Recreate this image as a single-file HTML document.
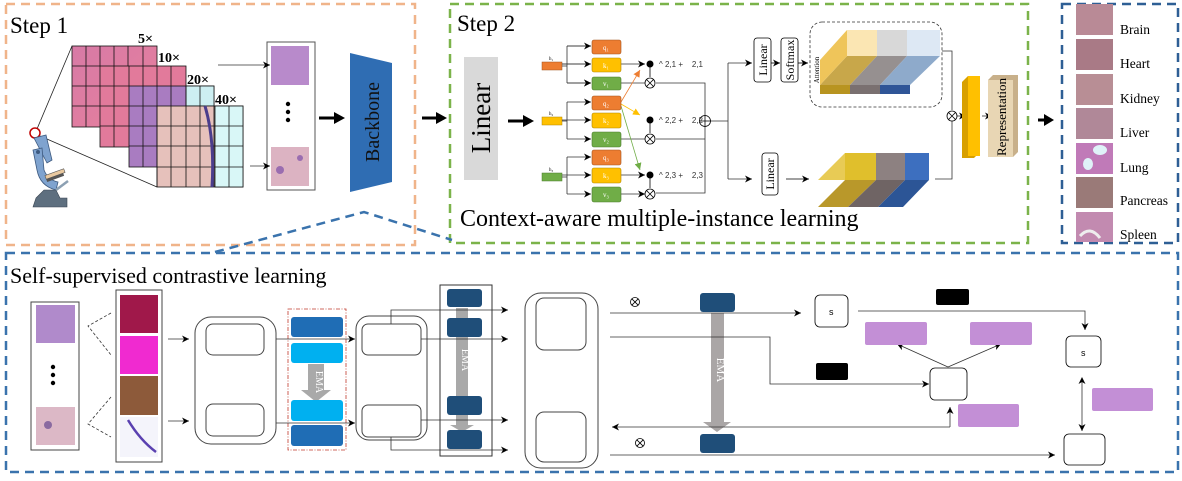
<!DOCTYPE html>
<html><head><meta charset="utf-8"><style>
html,body{margin:0;padding:0;background:#fff;}
svg{display:block;font-family:"Liberation Serif",serif;}
</style></head><body>
<svg width="1182" height="481" viewBox="0 0 1182 481" xmlns="http://www.w3.org/2000/svg">
<defs>
<marker id="a" markerWidth="8" markerHeight="8" refX="7" refY="4" orient="auto" markerUnits="userSpaceOnUse"><path d="M0,0.5 L7,4 L0,7.5 L2,4 Z" fill="#000"/></marker>
<marker id="as" markerWidth="8" markerHeight="8" refX="1" refY="4" orient="auto" markerUnits="userSpaceOnUse"><path d="M7,0.5 L0,4 L7,7.5 L5,4 Z" fill="#000"/></marker>
<marker id="ao" markerWidth="8" markerHeight="8" refX="7" refY="4" orient="auto" markerUnits="userSpaceOnUse"><path d="M0,0.5 L7,4 L0,7.5 Z" fill="#ed7d31"/></marker>
<marker id="ay" markerWidth="8" markerHeight="8" refX="7" refY="4" orient="auto" markerUnits="userSpaceOnUse"><path d="M0,0.5 L7,4 L0,7.5 Z" fill="#ffc000"/></marker>
<marker id="ag" markerWidth="8" markerHeight="8" refX="7" refY="4" orient="auto" markerUnits="userSpaceOnUse"><path d="M0,0.5 L7,4 L0,7.5 Z" fill="#70ad47"/></marker>
<linearGradient id="pk" x1="0" y1="0" x2="1" y2="1"><stop offset="0" stop-color="#d77aa6"/><stop offset="1" stop-color="#e8809c"/></linearGradient>
</defs>

<!-- Frames -->
<rect x="6" y="4" width="409" height="241" fill="none" stroke="#f0b48a" stroke-width="2.5" stroke-dasharray="9,6"/>
<rect x="450" y="4" width="578" height="239" fill="none" stroke="#7bb34a" stroke-width="2.5" stroke-dasharray="9,6"/>
<rect x="1062" y="4" width="116" height="239" fill="none" stroke="#2e5f95" stroke-width="2.5" stroke-dasharray="9,6"/>
<rect x="6" y="253" width="1172" height="219" fill="none" stroke="#3a73ad" stroke-width="2.5" stroke-dasharray="9,6"/>
<polyline points="215,252 364,212 452,240" fill="none" stroke="#3a73ad" stroke-width="2.5" stroke-dasharray="9,6"/>

<!-- Step 1 -->
<text x="10" y="33" font-size="23">Step 1</text>
<line x1="37" y1="129" x2="72" y2="46" stroke="#222" stroke-width="0.8"/>
<line x1="40" y1="136" x2="157" y2="187" stroke="#222" stroke-width="0.8"/>
<!-- layers -->
<g stroke="#111" stroke-width="0.8">
<rect x="72" y="46" width="85" height="81" fill="url(#pk)"/>
<rect x="100" y="66" width="86" height="81" fill="#e27a9b"/>
<rect x="129" y="86" width="85" height="81" fill="#a97cc1"/>
<rect x="186" y="86" width="28" height="20" fill="#cdeff2"/>
<rect x="157" y="106" width="86" height="81" fill="#e6c1bb"/>
<rect x="215" y="106" width="28" height="81" fill="#d9f7f7"/>
<path d="M157,106 L157,187 M171,106V187 M186,106V187 M200,106V187 M214,106V187 M229,106V187 M157,126H243 M157,146H243 M157,167H243"/>
<path d="M129,106H157 M129,126H157 M129,146H157 M143,86V167 M157,86V106 M171,86V106 M186,86V106 M200,86V106"/>
<path d="M100,86H129 M100,106H129 M100,126H129 M114,66V147 M129,66V86 M143,66V86 M157,66V86 M171,66V86"/>
<path d="M72,66H100 M72,86H100 M72,106H100 M86,46V127 M100,46V66 M114,46V66 M128,46V66 M143,46V66"/>
</g>
<path d="M205,106 Q215,140 212,187" stroke="#4b3d8c" stroke-width="3" fill="none"/>
<g font-weight="bold" font-size="14">
<text x="138" y="43">5×</text><text x="158" y="62">10×</text><text x="187" y="84">20×</text><text x="215" y="104">40×</text>
</g>
<!-- microscope -->
<g>
<circle cx="35" cy="133" r="5" fill="none" stroke="#c00000" stroke-width="1.5"/>
<path d="M34,138 L46,135 L52,160 L47,163 Z" fill="#7fa3cf" stroke="#3d5a80" stroke-width="0.8"/>
<path d="M33,150 L42,148 L44,170 Q48,180 58,182 L56,190 Q40,186 37,170 Z" fill="#7fa3cf" stroke="#3d5a80" stroke-width="0.8"/>
<rect x="45" y="172" width="20" height="4" fill="#e9c9a0" stroke="#555" stroke-width="0.6" transform="rotate(-20 55 174)"/>
<rect x="46" y="176" width="18" height="3" fill="#555" transform="rotate(-20 55 177)"/>
<circle cx="38" cy="152" r="2" fill="#3d5a80"/>
<path d="M36,198 L44,190 L56,190 L60,198 L67,198 L67,207 L33,207 Z" fill="#5e6f7f" stroke="#3a4652" stroke-width="0.6"/>
<line x1="56" y1="190" x2="68" y2="181" stroke="#8ca0b3" stroke-width="2.5"/>
</g>
<!-- patch column -->
<rect x="267" y="42" width="48" height="148" fill="#fff" stroke="#555" stroke-width="1"/>
<rect x="271" y="46" width="38" height="39" fill="#b88acb"/>
<rect x="271" y="147" width="38" height="39" fill="#dcb3c2"/>
<circle cx="280" cy="170" r="4" fill="#9a6db0"/><circle cx="300" cy="158" r="3" fill="#9a6db0"/>
<circle cx="288" cy="104" r="2.2"/><circle cx="288" cy="112" r="2.2"/><circle cx="288" cy="120" r="2.2"/>
<line x1="218" y1="65" x2="270" y2="65" stroke="#333" stroke-width="0.8" marker-end="url(#a)"/>
<line x1="250" y1="166" x2="270" y2="166" stroke="#333" stroke-width="0.8" marker-end="url(#a)"/>
<line x1="319" y1="118" x2="336" y2="118" stroke="#000" stroke-width="3"/><path d="M334,112 L345,118 L334,124 Z"/>
<polygon points="350,53 392,63 392,182 350,192" fill="#2f6db3"/>
<text transform="translate(379,122) rotate(-90)" text-anchor="middle" font-size="20" fill="#111">Backbone</text>
<line x1="422" y1="118" x2="437" y2="118" stroke="#000" stroke-width="3"/><path d="M436,112 L447,118 L436,124 Z"/>

<!-- Step 2 -->
<text x="457" y="31" font-size="23">Step 2</text>
<rect x="464" y="57" width="34" height="123" fill="#d9d9d9"/>
<text transform="translate(490,118) rotate(-90)" text-anchor="middle" font-size="27">Linear</text>
<line x1="508" y1="121" x2="524" y2="121" stroke="#000" stroke-width="3"/><path d="M523,115 L534,121 L523,127 Z"/>
<rect x="542" y="62" width="20" height="8" fill="#ed7d31" stroke="#a0521d" stroke-width="0.5"/>
<rect x="542" y="117" width="20" height="8" fill="#ffc000" stroke="#b08500" stroke-width="0.5"/>
<rect x="542" y="173" width="20" height="8" fill="#70ad47" stroke="#4a7a2c" stroke-width="0.5"/>
<g font-size="5"><text x="549" y="60">h₁</text><text x="549" y="115">h₂</text><text x="549" y="171">h₃</text></g>
<g stroke="#333" stroke-width="0.8" fill="none">
<path d="M562,66 H567 M567,46 V83 M567,46 H591 M562,64 H591 M567,83 H591" marker-end="url(#a)"/>
<line x1="567" y1="46" x2="591" y2="46" marker-end="url(#a)"/><line x1="562" y1="64" x2="591" y2="64" marker-end="url(#a)"/><line x1="567" y1="83" x2="591" y2="83" marker-end="url(#a)"/>
<path d="M562,121 H567 M567,102 V139"/>
<line x1="567" y1="102" x2="591" y2="102" marker-end="url(#a)"/><line x1="562" y1="120" x2="591" y2="120" marker-end="url(#a)"/><line x1="567" y1="139" x2="591" y2="139" marker-end="url(#a)"/>
<path d="M562,177 H567 M567,157 V194"/>
<line x1="567" y1="157" x2="591" y2="157" marker-end="url(#a)"/><line x1="562" y1="175" x2="591" y2="175" marker-end="url(#a)"/><line x1="567" y1="194" x2="591" y2="194" marker-end="url(#a)"/>
<line x1="621" y1="64" x2="645" y2="64" marker-end="url(#a)"/>
<line x1="621" y1="175" x2="645" y2="175" marker-end="url(#a)"/>
<line x1="621" y1="194" x2="645" y2="194" marker-end="url(#a)"/>
<line x1="621" y1="83" x2="645" y2="83"/>
<line x1="621" y1="139" x2="645" y2="139"/>
<path d="M656,83 H705 V193 H656 M656,139 H705 M710,121 H728 M728,63 V179"/>
<line x1="728" y1="63" x2="752" y2="63" marker-end="url(#a)"/>
<line x1="728" y1="179" x2="752" y2="179" marker-end="url(#a)"/>
</g>
<line x1="621" y1="102" x2="640" y2="70" stroke="#ed7d31" stroke-width="0.8" marker-end="url(#ao)"/>
<line x1="621" y1="104" x2="640" y2="115" stroke="#ffc000" stroke-width="0.8" marker-end="url(#ay)"/>
<line x1="621" y1="106" x2="640" y2="170" stroke="#70ad47" stroke-width="0.8" marker-end="url(#ag)"/>
<g stroke-width="0.6">
<rect x="592" y="40" width="29" height="14" rx="2" fill="#ed7d31" stroke="#a0521d"/>
<rect x="592" y="58" width="29" height="14" rx="2" fill="#ffc000" stroke="#b08500"/>
<rect x="592" y="77" width="29" height="13" rx="2" fill="#70ad47" stroke="#4a7a2c"/>
<rect x="592" y="96" width="29" height="14" rx="2" fill="#ed7d31" stroke="#a0521d"/>
<rect x="592" y="113" width="29" height="15" rx="2" fill="#ffc000" stroke="#b08500"/>
<rect x="592" y="132" width="29" height="15" rx="2" fill="#70ad47" stroke="#4a7a2c"/>
<rect x="592" y="150" width="29" height="15" rx="2" fill="#ed7d31" stroke="#a0521d"/>
<rect x="592" y="168" width="29" height="15" rx="2" fill="#ffc000" stroke="#b08500"/>
<rect x="592" y="187" width="29" height="15" rx="2" fill="#70ad47" stroke="#4a7a2c"/>
</g>
<g font-size="7" fill="#fff" text-anchor="middle">
<text x="606" y="50">q₁</text><text x="606" y="68">k₁</text><text x="606" y="86">v₁</text>
<text x="606" y="106">q₂</text><text x="606" y="123">k₂</text><text x="606" y="142">v₂</text>
<text x="606" y="160">q₃</text><text x="606" y="178">k₃</text><text x="606" y="197">v₃</text>
</g>
<g>
<circle cx="650" cy="64" r="3.5"/><circle cx="650" cy="120" r="3.5"/><circle cx="650" cy="175" r="3.5"/>
<line x1="650" y1="67" x2="650" y2="77" stroke="#000" stroke-width="0.8"/><line x1="650" y1="123" x2="650" y2="133" stroke="#000" stroke-width="0.8"/><line x1="650" y1="178" x2="650" y2="188" stroke="#000" stroke-width="0.8"/>
</g>
<g fill="#fff" stroke="#000" stroke-width="0.8">
<circle cx="650" cy="83" r="5"/><circle cx="650" cy="139" r="5"/><circle cx="650" cy="194" r="5"/><circle cx="705" cy="121" r="5.5"/>
</g>
<path d="M646.5,79.5 l7,7 m0,-7 l-7,7 M646.5,135.5 l7,7 m0,-7 l-7,7 M646.5,190.5 l7,7 m0,-7 l-7,7 M699.5,121 h11 M705,115.5 v11" stroke="#000" stroke-width="0.8"/>
<g font-size="8" font-family="Liberation Sans,sans-serif" fill="#333">
<text x="659" y="67">^ 2,1 +&#160;&#160;&#160; 2,1</text>
<text x="659" y="123">^ 2,2 +&#160;&#160;&#160; 2,2</text>
<text x="659" y="178">^ 2,3 +&#160;&#160;&#160; 2,3</text>
</g>
<!-- Linear/Softmax -->
<rect x="754" y="38" width="17" height="44" rx="3" fill="#fff" stroke="#000" stroke-width="0.8"/>
<rect x="781" y="38" width="17" height="44" rx="3" fill="#fff" stroke="#000" stroke-width="0.8"/>
<line x1="771" y1="63" x2="780" y2="63" stroke="#000" stroke-width="0.8" marker-end="url(#a)"/>
<line x1="798" y1="63" x2="808" y2="63" stroke="#000" stroke-width="0.8" marker-end="url(#a)"/>
<text transform="translate(767,60) rotate(-90)" text-anchor="middle" font-size="12">Linear</text>
<text transform="translate(794,60) rotate(-90)" text-anchor="middle" font-size="12">Softmax</text>
<rect x="762" y="153" width="16" height="42" rx="3" fill="#fff" stroke="#000" stroke-width="0.8"/>
<text transform="translate(774,174) rotate(-90)" text-anchor="middle" font-size="12">Linear</text>
<line x1="786" y1="179" x2="809" y2="179" stroke="#000" stroke-width="0.8" marker-end="url(#a)"/>
<!-- attention -->
<rect x="810" y="22" width="132" height="85" rx="12" fill="none" stroke="#333" stroke-width="0.8" stroke-dasharray="3,2"/>
<text transform="translate(819,70) rotate(-90)" text-anchor="middle" font-size="7">Attention</text>
<g>
<rect x="847" y="30" width="30" height="26" fill="#fbe6b3"/><rect x="877" y="30" width="30" height="26" fill="#d8d8d8"/><rect x="907" y="30" width="33" height="26" fill="#dde8f4"/>
<polygon points="820,85 847,56 877,56 850,85" fill="#c8a74a"/>
<polygon points="850,85 877,56 907,56 880,85" fill="#969090"/>
<polygon points="880,85 907,56 940,56 910,85" fill="#8eaacb"/>
<polygon points="820,85 847,56 847,30 820,60" fill="#efc55a"/>
<rect x="820" y="85" width="30" height="9" fill="#b89420"/><rect x="850" y="85" width="30" height="9" fill="#7a7070"/><rect x="880" y="85" width="30" height="9" fill="#2f5597"/>
</g>
<!-- bottom cubes -->
<g>
<rect x="845" y="153" width="31" height="27" fill="#e0bf2c"/>
<polygon points="818,180 845,153 845,180" fill="#e8cb55"/>
<polygon points="818,207 848,207 876,180 845,180" fill="#b9982a"/>
<rect x="818" y="180" width="0" height="0"/>
<rect x="876" y="153" width="29" height="27" fill="#8d8181"/>
<polygon points="848,207 878,207 905,180 876,180" fill="#6f6464"/>
<rect x="905" y="153" width="24" height="27" fill="#3d6fbf"/>
<polygon points="878,207 903,207 929,180 905,180" fill="#2c5596"/>
</g>
<g stroke="#333" stroke-width="0.8" fill="none">
<path d="M942,51 H952 V110 M935,179 H952 V121"/>
<line x1="957" y1="116" x2="966" y2="116" marker-end="url(#a)"/>
<line x1="982" y1="116" x2="992" y2="116" marker-end="url(#a)"/>
</g>
<circle cx="952" cy="116" r="5" fill="#fff" stroke="#000" stroke-width="0.8"/>
<path d="M948.5,112.5 l7,7 m0,-7 l-7,7" stroke="#000" stroke-width="0.8"/>
<polygon points="962,82 968,76 980,76 980,152 974,158 962,158" fill="#d8a000"/>
<rect x="968" y="76" width="12" height="80" fill="#ffc000"/>
<polygon points="988,80 993,75 1018,75 1018,152 1013,157 988,157" fill="#c8b08a"/>
<rect x="988" y="80" width="25" height="77" fill="#e8d6b4"/>
<text transform="translate(1006,117) rotate(-90)" text-anchor="middle" font-size="13">Representation</text>
<text x="460" y="226" font-size="24">Context-aware multiple-instance learning</text>
<line x1="1038" y1="120" x2="1045" y2="120" stroke="#000" stroke-width="3"/><path d="M1044,114 L1054,120 L1044,126 Z"/>

<!-- organs -->
<g>
<rect x="1076" y="4" width="37" height="31" fill="#b98a96"/>
<rect x="1076" y="39" width="37" height="31" fill="#a97a86"/>
<rect x="1076" y="74" width="37" height="31" fill="#b88e95"/>
<rect x="1076" y="108" width="37" height="31" fill="#b08898"/>
<rect x="1076" y="143" width="37" height="31" fill="#c07ab8"/>
<ellipse cx="1100" cy="150" rx="7" ry="5" fill="#dff2f8"/><ellipse cx="1088" cy="164" rx="5" ry="6" fill="#dff2f8"/>
<rect x="1076" y="177" width="37" height="31" fill="#9a7a78"/>
<rect x="1076" y="212" width="37" height="30" fill="#c28ab0"/>
<path d="M1080,236 Q1090,225 1100,238" stroke="#eee" stroke-width="3" fill="none"/>
</g>
<g font-size="13.5">
<text x="1120" y="34">Brain</text><text x="1120" y="68">Heart</text><text x="1120" y="103">Kidney</text><text x="1120" y="137">Liver</text><text x="1120" y="172">Lung</text><text x="1120" y="205">Pancreas</text><text x="1120" y="239">Spleen</text>
</g>

<!-- Bottom -->
<text x="10" y="283" font-size="22">Self-supervised contrastive learning</text>
<rect x="31" y="302" width="48" height="148" fill="#fff" stroke="#444" stroke-width="1"/>
<rect x="36" y="305" width="39" height="38" fill="#b08acb"/>
<rect x="36" y="407" width="39" height="38" fill="#dcb8c6"/>
<circle cx="48" cy="425" r="4" fill="#8a6aa0"/>
<circle cx="53" cy="367" r="2.2"/><circle cx="53" cy="375" r="2.2"/><circle cx="53" cy="383" r="2.2"/>
<g stroke="#333" stroke-width="0.8" stroke-dasharray="3,2" fill="none">
<path d="M111,313 L88,326 L111,355 M111,397 L88,424 L111,437"/>
</g>
<rect x="116" y="290" width="46" height="172" fill="#fff" stroke="#444" stroke-width="1"/>
<rect x="120" y="295" width="38" height="38" fill="#a0184a"/>
<rect x="120" y="336" width="38" height="38" fill="#f02ad0"/>
<rect x="120" y="376" width="38" height="39" fill="#8d5a3a"/>
<rect x="120" y="417" width="38" height="40" fill="#f4f4fb"/>
<path d="M128,420 Q140,440 156,452" stroke="#5a40b0" stroke-width="2.5" fill="none"/>
<g stroke="#333" stroke-width="0.8" fill="none">
<line x1="168" y1="339" x2="189" y2="339" marker-end="url(#a)"/>
<line x1="168" y1="421" x2="189" y2="421" marker-end="url(#a)"/>
</g>
<g fill="#fff" stroke="#444" stroke-width="1">
<rect x="195" y="317" width="81" height="127" rx="16"/>
<rect x="206" y="324" width="58" height="31" rx="7"/>
<rect x="206" y="404" width="58" height="32" rx="7"/>
</g>
<rect x="288" y="309" width="58" height="141" fill="none" stroke="#c0392b" stroke-width="0.8" stroke-dasharray="4,1.5,1,1.5"/>
<polygon points="308,364 324,364 324,390 331,390 316,402 301,390 308,390" fill="#a9a9a9"/>
<text transform="translate(316,382) rotate(90)" text-anchor="middle" font-size="10" fill="#fff">EMA</text>
<rect x="291" y="317" width="52" height="20" rx="3" fill="#1f6db5"/>
<rect x="291" y="343" width="52" height="20" rx="3" fill="#00b0f0"/>
<rect x="291" y="400" width="52" height="21" rx="3" fill="#00b0f0"/>
<rect x="291" y="425" width="52" height="21" rx="3" fill="#1f6db5"/>
<g stroke="#333" stroke-width="0.8" fill="none">
<line x1="276" y1="339" x2="355" y2="339" marker-end="url(#a)"/>
<line x1="276" y1="423" x2="355" y2="423" marker-end="url(#a)"/>
</g>
<g fill="#fff" stroke="#444" stroke-width="1">
<rect x="356" y="316" width="71" height="124" rx="13"/>
<rect x="362" y="324" width="59" height="31" rx="6"/>
<rect x="362" y="405" width="59" height="32" rx="6"/>
</g>
<rect x="440" y="285" width="52" height="171" fill="none" stroke="#333" stroke-width="1"/>
<polygon points="456,308 468,308 468,425 474,425 462,432 450,425 456,425" fill="#a9a9a9"/>
<text transform="translate(462,360) rotate(90)" text-anchor="middle" font-size="10" fill="#fff">EMA</text>
<rect x="447" y="289" width="35" height="18" rx="3" fill="#1f4e79"/>
<rect x="447" y="318" width="35" height="19" rx="3" fill="#1f4e79"/>
<rect x="447" y="396" width="35" height="19" rx="3" fill="#1f4e79"/>
<rect x="447" y="430" width="35" height="19" rx="3" fill="#1f4e79"/>
<g stroke="#333" stroke-width="0.8" fill="none">
<path d="M391,324 V310 H508" marker-end="url(#a)"/>
<line x1="421" y1="339" x2="508" y2="339" marker-end="url(#a)"/>
<line x1="421" y1="420" x2="508" y2="420" marker-end="url(#a)"/>
<path d="M391,437 V450 H508" marker-end="url(#a)"/>
</g>
<g fill="#fff" stroke="#444" stroke-width="1">
<rect x="525" y="293" width="73" height="175" rx="16"/>
<rect x="536" y="298" width="50" height="52" rx="8"/>
<rect x="536" y="412" width="50" height="50" rx="8"/>
</g>
<!-- right part -->
<g fill="#fff" stroke="#000" stroke-width="0.8">
<circle cx="635" cy="302" r="4.5"/><circle cx="640" cy="443" r="4.5"/>
</g>
<path d="M631.8,298.8 l6.4,6.4 m0,-6.4 l-6.4,6.4 M636.8,439.8 l6.4,6.4 m0,-6.4 l-6.4,6.4" stroke="#000" stroke-width="0.8"/>
<polygon points="711,313 724,313 724,422 731,422 717,432 703,422 711,422" fill="#aaa6a6"/>
<text transform="translate(717,370) rotate(90)" text-anchor="middle" font-size="11" fill="#fff">EMA</text>
<rect x="700" y="293" width="35" height="19" rx="3" fill="#1f4e79"/>
<rect x="700" y="434" width="35" height="19" rx="3" fill="#1f4e79"/>
<g stroke="#333" stroke-width="0.8" fill="none">
<line x1="610" y1="313" x2="801" y2="313" marker-end="url(#a)"/>
<path d="M858,311 H1085 V330" marker-end="url(#a)"/>
<path d="M610,337 H770 V384 H929" marker-end="url(#a)"/>
<line x1="948" y1="367" x2="897" y2="344" marker-end="url(#a)"/>
<line x1="948" y1="367" x2="1001" y2="344" marker-end="url(#a)"/>
<path d="M950,427 H612" marker-end="url(#a)"/>
<line x1="950" y1="427" x2="950" y2="407" marker-end="url(#a)"/>
<line x1="610" y1="455" x2="1055" y2="455" marker-end="url(#a)"/>
<line x1="1082" y1="378" x2="1082" y2="431" marker-end="url(#a)" marker-start="url(#as)"/>
</g>
<g fill="#fff" stroke="#000" stroke-width="0.8">
<rect x="815" y="295" width="33" height="32" rx="5"/>
<rect x="1066" y="336" width="35" height="31" rx="5"/>
<rect x="930" y="368" width="37" height="32" rx="5"/>
<rect x="1064" y="434" width="41" height="31" rx="5"/>
</g>
<g font-family="Liberation Sans,sans-serif" font-size="9"><text x="829" y="315">s</text><text x="1081" y="356">s</text></g>
<rect x="936" y="289" width="33" height="16" rx="2" fill="#000"/>
<rect x="816" y="363" width="32" height="17" rx="2" fill="#000"/>
<g fill="#c38fd6">
<rect x="865" y="322" width="62" height="23" rx="2"/>
<rect x="970" y="322" width="62" height="23" rx="2"/>
<rect x="958" y="404" width="61" height="23" rx="2"/>
<rect x="1092" y="388" width="61" height="23" rx="2"/>
</g>
</svg>
</body></html>
